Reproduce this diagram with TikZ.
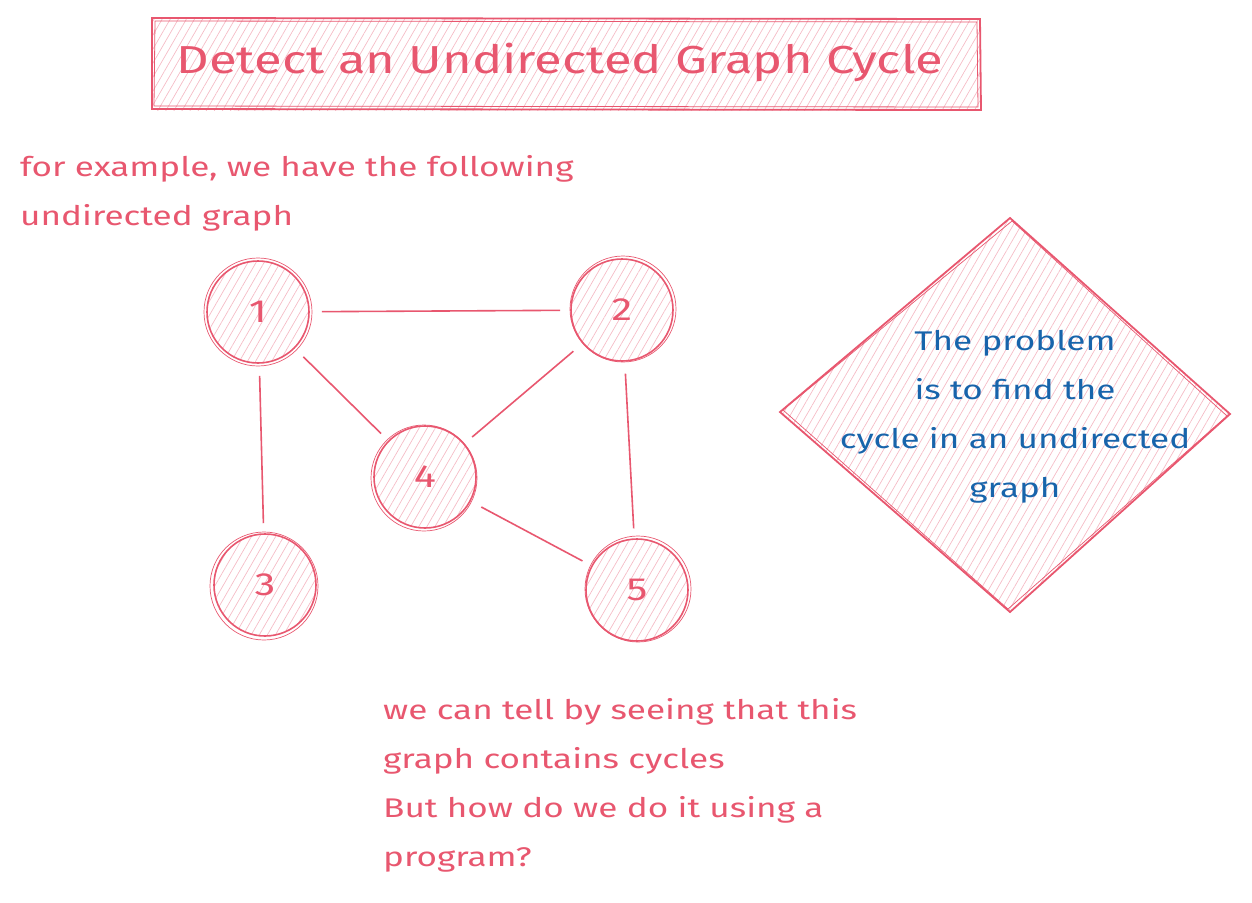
\documentclass[tikz,border=0pt]{standalone}
\usepackage{fontspec}
\setmainfont{Fira Sans}[FakeStretch=1.3]
\usetikzlibrary{patterns.meta}
\definecolor{sred}{HTML}{E8576F}
\definecolor{shatch}{HTML}{F5BCC6}
\definecolor{sblue}{HTML}{1864AB}
\tikzset{
  hatch/.style={pattern={Lines[angle=60,distance=7pt,line width=0.7pt]},pattern color=shatch},
  gnode/.style={circle,draw=sred,line width=1.6pt,minimum size=102pt,inner sep=0pt,
    hatch,text=sred,font=\fontsize{32}{32}\selectfont},
  gedge/.style={draw=sred,line width=1.6pt,shorten <=12pt,shorten >=10pt},
  redtext/.style={text=sred,font=\fontsize{27}{49}\selectfont,align=left,anchor=north west,inner sep=0pt},
}
\begin{document}
\begin{tikzpicture}[x=1pt,y=-1pt]
\useasboundingbox (0,0) rectangle (1252,902);
% title box
\path[hatch] (152,18) rectangle (980,110);
\draw[sred,line width=1.8pt] (152,18) -- (980,19) -- (981,110) -- (152,109) -- cycle;
\draw[sred,line width=0.8pt] (155,21) -- (977,22) -- (978,107) -- (154,106) -- cycle;
\node[text=sred,font=\fontsize{39}{39}\selectfont] (title) at (560,62) {Detect an Undirected Graph Cycle};
% intro text
\node[redtext] (intro) at (20,155) {for example, we have the following\\undirected graph};
% graph nodes
\node[gnode] (n1) at (258,312) {1};
\node[gnode] (n2) at (622,310) {2};
\node[gnode] (n3) at (265,585) {3};
\node[gnode] (n4) at (425,477) {4};
\node[gnode] (n5) at (637,590) {5};
\draw[sred,line width=0.7pt] (258,312) circle (54pt);
\draw[sred,line width=0.7pt] (623,309) circle (53pt);
\draw[sred,line width=0.7pt] (264,586) circle (54pt);
\draw[sred,line width=0.7pt] (424,478) circle (53pt);
\draw[sred,line width=0.7pt] (638,589) circle (53pt);
% edges
\path[gedge] (n1) -- (n2);
\path[gedge] (n1) -- (n3);
\path[gedge] (n1) -- (n4);
\path[gedge] (n2) -- (n4);
\path[gedge] (n2) -- (n5);
\path[gedge] (n4) -- (n5);
% diamond
\coordinate (dt) at (1010,218);
\coordinate (dr) at (1230,414);
\coordinate (db) at (1010,612);
\coordinate (dl) at (780,412);
\path[hatch] (dt) -- (dr) -- (db) -- (dl) -- cycle;
\draw[sred,line width=1.8pt] (dt) -- (dr) -- (db) -- (dl) -- cycle;
\draw[sred,line width=0.7pt] (1012,221) -- (1227,416) -- (1008,609) -- (783,410) -- cycle;
\node[text=sblue,font=\fontsize{27}{49}\selectfont,align=center] (dtext) at (1015,417)
  {The problem\\is to find the\\cycle in an undirected\\graph};
% bottom text
\node[redtext] (outro) at (383,698) {we can tell by seeing that this\\graph contains cycles\\But how do we do it using a\\program?};
\end{tikzpicture}
\end{document}
